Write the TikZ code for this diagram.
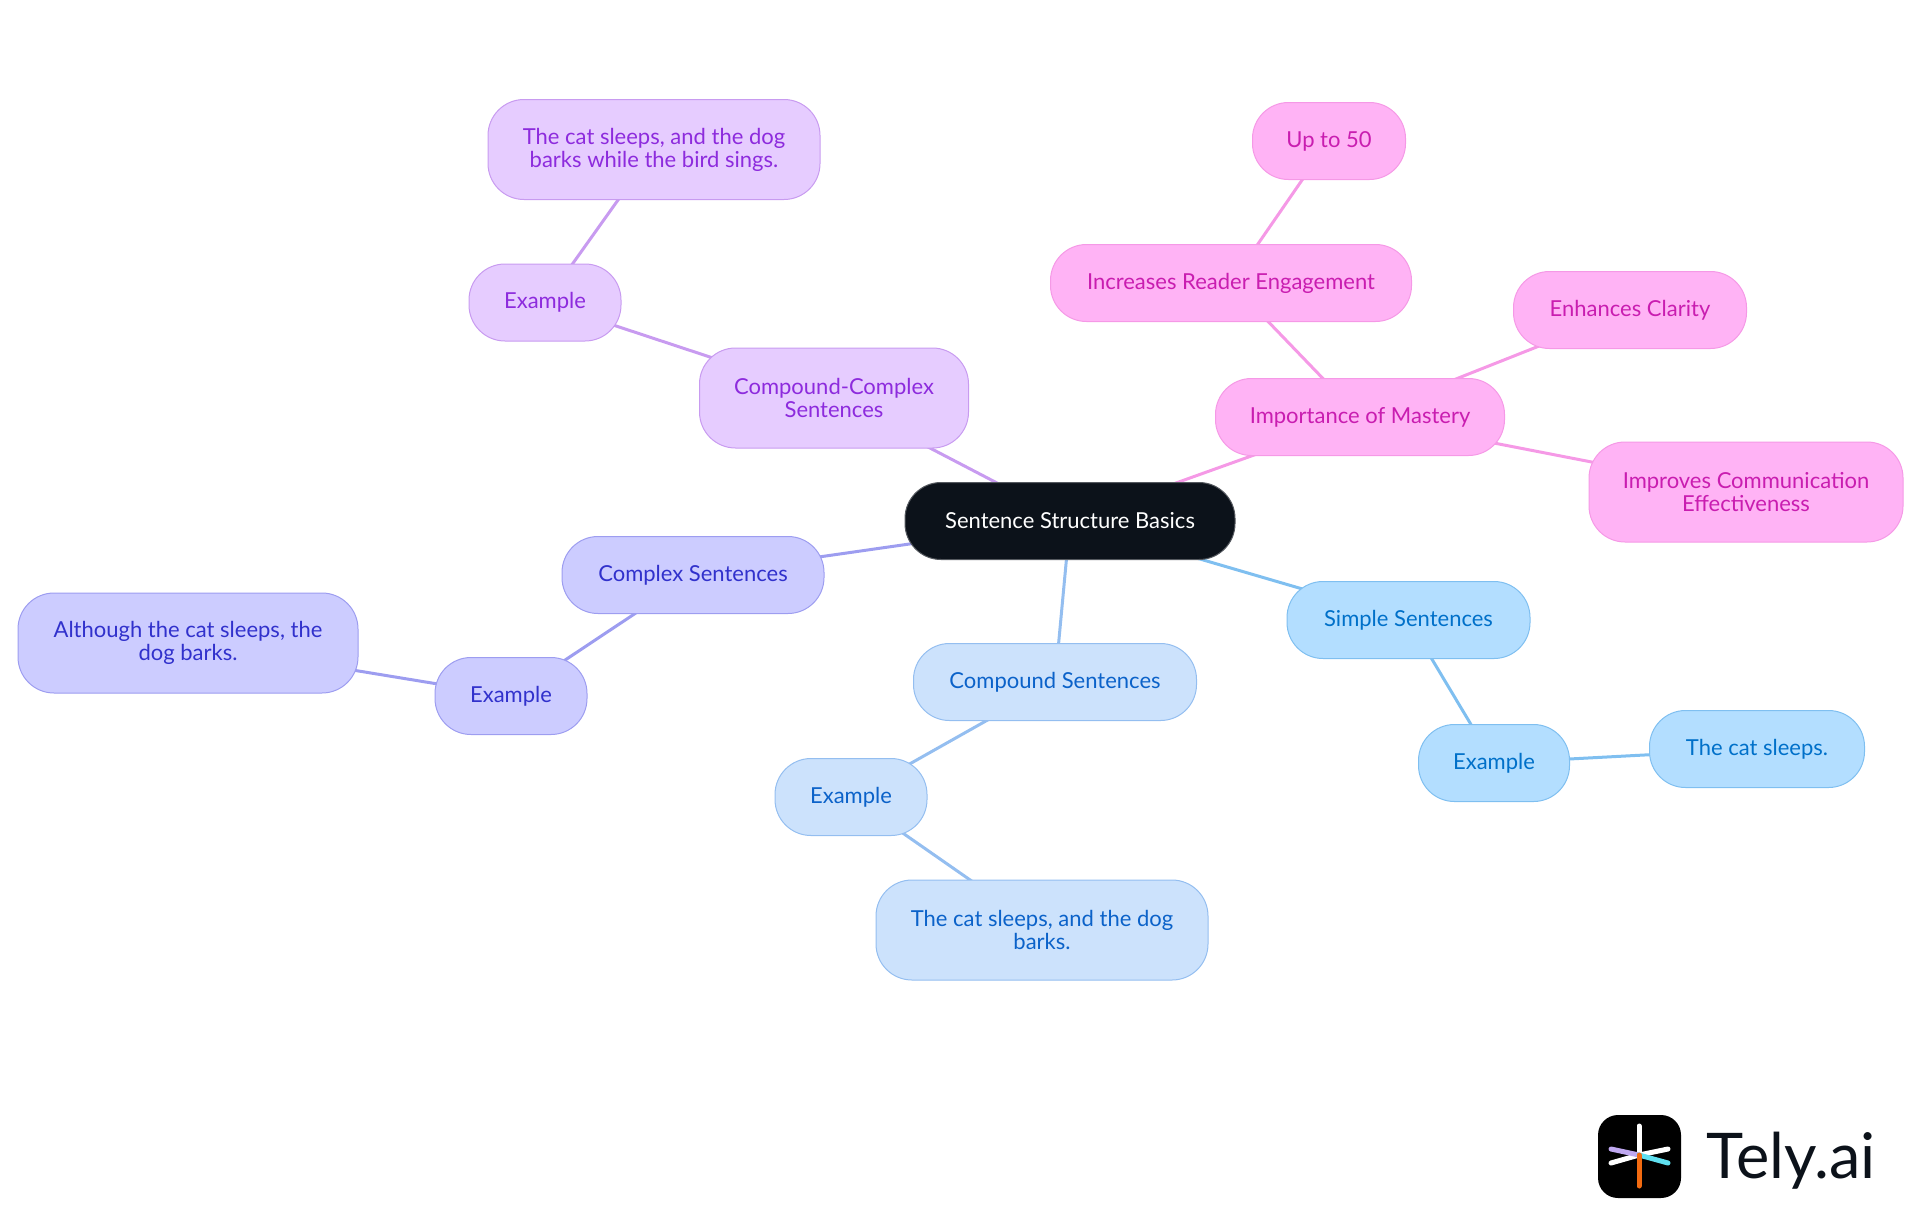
\documentclass[tikz,border=0pt]{standalone}
\usepackage{fontspec}
\setmainfont{Lato}
\usetikzlibrary{backgrounds}
\definecolor{simplefill}{HTML}{B3DEFF}
\definecolor{simpleline}{HTML}{7FBFF0}
\definecolor{simpletext}{HTML}{0070C9}
\definecolor{compoundfill}{HTML}{CCE2FC}
\definecolor{compoundline}{HTML}{94BEF0}
\definecolor{compoundtext}{HTML}{0B62C9}
\definecolor{complexfill}{HTML}{CCCCFF}
\definecolor{complexline}{HTML}{9D9DF0}
\definecolor{complextext}{HTML}{3131CC}
\definecolor{mixedfill}{HTML}{E6CCFF}
\definecolor{mixedline}{HTML}{C89BF0}
\definecolor{mixedtext}{HTML}{8D2BDD}
\definecolor{masteryfill}{HTML}{FFB3F5}
\definecolor{masteryline}{HTML}{F599E6}
\definecolor{masterytext}{HTML}{C91DB0}
\definecolor{rootfill}{HTML}{0C121A}
\definecolor{logopurple}{HTML}{BFA8F0}
\definecolor{logocyan}{HTML}{5FE0F0}
\definecolor{logoorange}{HTML}{F26A10}
\tikzset{
  pill/.style={draw,rounded corners=18pt,inner sep=0pt,align=center,line width=.5pt,
    minimum height=38.5pt,font=\fontsize{11}{11.5}\selectfont},
  tall/.style={minimum height=50pt},
  simplebox/.style={pill,fill=simplefill,draw=simpleline,text=simpletext},
  compoundbox/.style={pill,fill=compoundfill,draw=compoundline,text=compoundtext},
  complexbox/.style={pill,fill=complexfill,draw=complexline,text=complextext},
  mixedbox/.style={pill,fill=mixedfill,draw=mixedline,text=mixedtext},
  masterybox/.style={pill,fill=masteryfill,draw=masteryline,text=masterytext},
  spoke/.style={line width=2.5pt,line cap=round}
}
\begin{document}
\begin{tikzpicture}[x=.5pt,y=-.5pt]
\useasboundingbox (0,0) rectangle (1920,1215);
\node[pill,fill=rootfill,draw=rootfill!70!white,text=white,minimum width=165pt] (root) at (1070,521) {Sentence Structure Basics};
% pink branch
\node[masterybox,minimum width=144.5pt] (mastery) at (1360,417) {Importance of Mastery};
\node[masterybox,minimum width=180.5pt] (engage) at (1231,283) {Increases Reader Engagement};
\node[masterybox,minimum width=76.5pt] (upto) at (1329,141) {Up to 50};
\node[masterybox,minimum width=116.5pt] (clarity) at (1630,310) {Enhances Clarity};
\node[masterybox,tall,minimum width=157pt] (comm) at (1746,492) {Improves Communication\\Effectiveness};
% simple
\node[simplebox,minimum width=121.5pt] (simple) at (1408.5,620) {Simple Sentences};
\node[simplebox,minimum width=75.5pt] (simpleex) at (1494,763) {Example};
\node[simplebox,minimum width=107.5pt] (simpletxt) at (1757,749) {The cat sleeps.};
% compound
\node[compoundbox,minimum width=141.5pt] (compound) at (1055,682) {Compound Sentences};
\node[compoundbox,minimum width=76pt] (compoundex) at (851,797) {Example};
\node[compoundbox,tall,minimum width=166pt] (compoundtxt) at (1042,930) {The cat sleeps, and the dog\\barks.};
% complex
\node[complexbox,minimum width=131pt] (complex) at (693,575) {Complex Sentences};
\node[complexbox,minimum width=76pt] (complexex) at (511,696) {Example};
\node[complexbox,tall,minimum width=170pt] (complextxt) at (188,643) {Although the cat sleeps, the\\dog barks.};
% compound-complex
\node[mixedbox,tall,minimum width=134.5pt] (mixed) at (834,398) {Compound-Complex\\Sentences};
\node[mixedbox,minimum width=76pt] (mixedex) at (545,302.5) {Example};
\node[mixedbox,tall,minimum width=166pt] (mixedtxt) at (654,149.5) {The cat sleeps, and the dog\\barks while the bird sings.};
\begin{scope}[on background layer]
\foreach \from/\to/\col in {root/mastery/masteryline,mastery/engage/masteryline,engage/upto/masteryline,
    mastery/clarity/masteryline,mastery/comm/masteryline,
    root/simple/simpleline,simple/simpleex/simpleline,simpleex/simpletxt/simpleline,
    root/compound/compoundline,compound/compoundex/compoundline,compoundex/compoundtxt/compoundline,
    root/complex/complexline,complex/complexex/complexline,complexex/complextxt/complexline,
    root/mixed/mixedline,mixed/mixedex/mixedline,mixedex/mixedtxt/mixedline}
  \draw[\col,line width=1.5pt] (\from.center) -- (\to.center);
\end{scope}
% logo
\node[fill=black,rounded corners=10pt,minimum size=41.5pt,inner sep=0pt] (logo) at (1639.5,1156.5) {};
\coordinate (hub) at (1639,1155);
\coordinate (spoketop) at (1639,1126);
\coordinate (spokeright) at (1668,1149);
\coordinate (spokeleft) at (1611,1163);
\coordinate (spokeup) at (1611,1149);
\coordinate (spokedown) at (1668,1163);
\coordinate (spokebottom) at (1639,1186);
\draw[spoke,white] (hub) -- (spoketop);
\draw[spoke,white] (hub) -- (spokeright);
\draw[spoke,white] (hub) -- (spokeleft);
\draw[spoke,logopurple] (hub) -- (spokeup);
\draw[spoke,logocyan] (hub) -- (spokedown);
\draw[spoke,logoorange] (hub) -- (spokebottom);
\node[anchor=base west,inner sep=0pt,text=rootfill,font=\fontsize{31.5}{32}\selectfont] (brand) at (1706,1178) {Tely.ai};
\end{tikzpicture}
\end{document}
